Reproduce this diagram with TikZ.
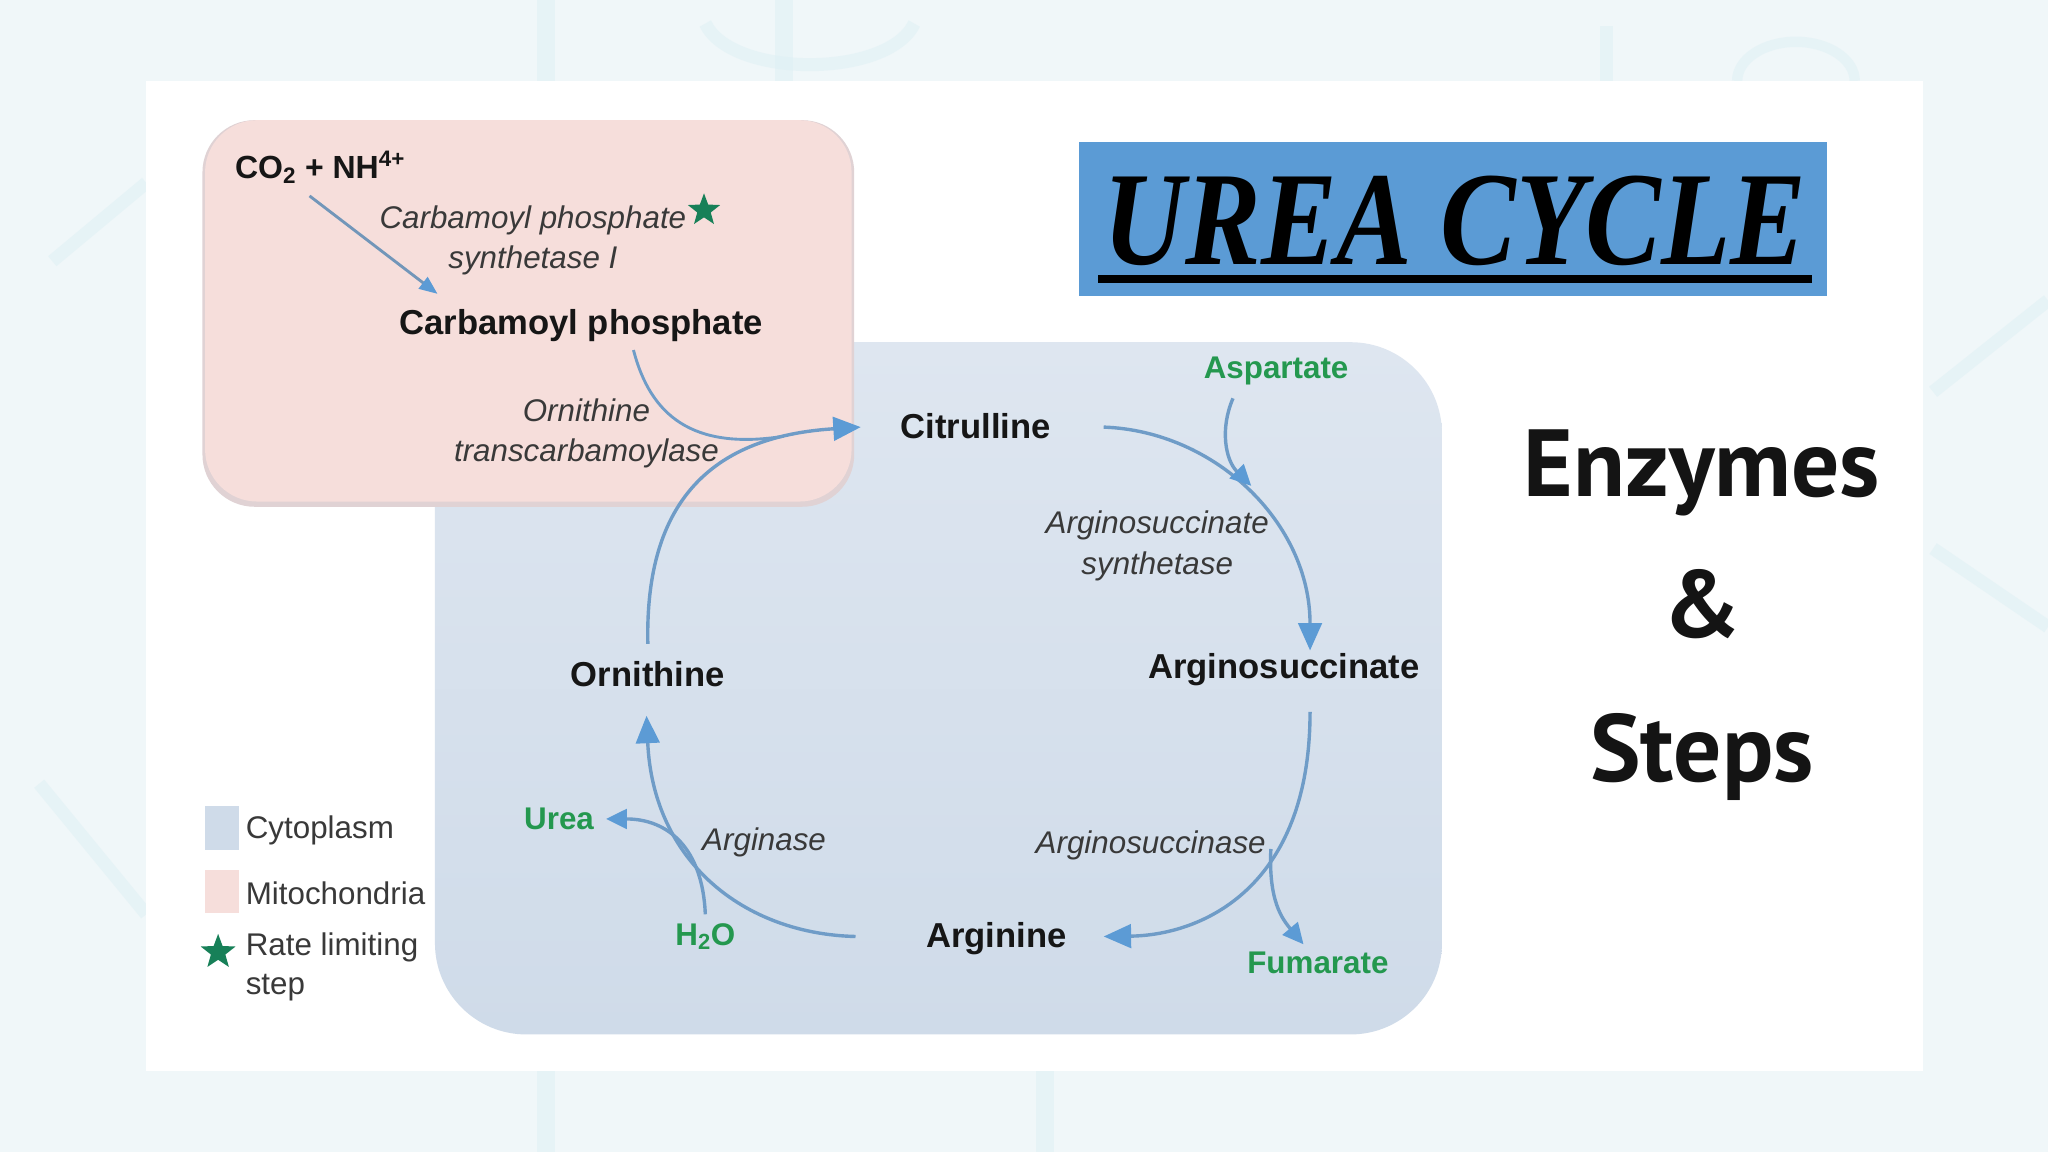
\documentclass[tikz,border=0pt]{standalone}
\usepackage{fontspec}
\setmainfont{Liberation Sans}
\newfontfamily\titlefont{Liberation Serif}
\newfontfamily\dinfont{PT Sans}
\usetikzlibrary{arrows.meta,shapes.geometric,calc}
\definecolor{bgout}{HTML}{F0F7F9}
\definecolor{deco}{HTML}{DCEFF4}
\definecolor{cytoA}{HTML}{DEE6F0}
\definecolor{cytoB}{HTML}{CFDBE9}
\definecolor{mito}{HTML}{F6DEDB}
\definecolor{mitoedge}{HTML}{E0D2D4}
\definecolor{arrowc}{HTML}{6F9CC7}
\definecolor{headc}{HTML}{5C9BD5}
\definecolor{grn}{HTML}{24984F}
\definecolor{stargrn}{HTML}{178058}
\definecolor{titlebg}{HTML}{5B9BD5}
\definecolor{txt}{HTML}{161616}
\tikzset{
  metab/.style={font=\fontsize{26.5}{30}\selectfont\bfseries, text=txt, inner sep=0pt},
  enzl/.style={font=\fontsize{24}{31}\selectfont\itshape, text=txt!85, align=center, inner sep=0pt},
  side/.style={font=\fontsize{24}{28}\selectfont\bfseries, text=grn, inner sep=0pt},
  legt/.style={font=\fontsize{24}{30}\selectfont, text=txt!85, inner sep=0pt, anchor=west, align=left},
  flow/.style={draw=arrowc, line width=2.6pt, -{Triangle[length=21pt,width=18pt,fill=headc,color=headc]}},
  thinflow/.style={draw=arrowc!80!gray, line width=2.2pt, -{Triangle[length=14pt,width=11pt,fill=headc,color=headc]}},
  rls/.style={star, star points=5, star point ratio=2.4, fill=stargrn, inner sep=0pt},
  big/.style={font=\dinfont\fontsize{73}{80}\selectfont\bfseries, text=black!92, inner sep=0pt, anchor=base}
}
\begin{document}
\begin{tikzpicture}[x=1pt,y=-1pt]
% page and backdrop
\fill[bgout] (0,0) rectangle (1568,882);
\useasboundingbox (0,0) rectangle (1568,882);
\begin{scope}[deco, line width=14pt, opacity=0.45]
  \draw (418,0) -- (418,62);
  \draw (418,820) -- (418,882);
  \draw (800,820) -- (800,882);
  \draw (600,0) -- (600,62);
  \draw[line width=10pt] (540,18) .. controls (560,60) and (680,60) .. (700,18);
  \draw[line width=8pt] (1330,62) arc (180:360:45 and 30);
  \draw[line width=10pt] (1480,300) -- (1568,230);
  \draw[line width=10pt] (1480,420) -- (1568,480);
  \draw[line width=10pt] (40,200) -- (112,140);
  \draw[line width=10pt] (30,600) -- (112,700);
  \draw[line width=10pt] (1230,20) -- (1230,62);
\end{scope}
\fill[white] (112,62) rectangle (1472,820);
% compartments
\path[rounded corners=70pt, top color=cytoA, bottom color=cytoB] (333,262) rectangle (1104,792);
\fill[mitoedge, rounded corners=40pt] (155,92) rectangle (654,388);
\fill[mito, rounded corners=40pt] (157,92) rectangle (652,384);
% title
\fill[titlebg] (826,109) rectangle (1399,227);
\node[inner sep=0pt] (title) at (1114,169) {\titlefont\fontsize{86}{90}\selectfont\bfseries\itshape\scalebox{1.01}[1.19]{UREA CYCLE}};
\draw[black, line width=6pt] ($(title.south west)+(-4,10)$) -- ($(title.south east)+(4,10)$);
% right text
\node[big] (enz) at (1303,380) {Enzymes};
\node[big] (amp) at (1303,488) {\&};
\node[big] (stp) at (1303,598) {Steps};
% metabolites
\node[metab, font=\fontsize{24.5}{28}\selectfont\bfseries] (co2) at (245,128) {CO\textsubscript{2} + NH\textsuperscript{4+}};
\node[metab] (cp) at (445,249) {Carbamoyl phosphate};
\node[metab] (cit) at (747,326) {Citrulline};
\node[metab] (asu) at (983,513) {Arginosuccinate};
\node[metab] (arg) at (763,719) {Arginine};
\node[metab] (orn) at (496,516) {Ornithine};
\node[side] (asp) at (977,284) {Aspartate};
\node[side] (fum) at (1009,737) {Fumarate};
\node[side] (urea) at (428,627) {Urea};
\node[side] (h2o) at (540,717) {H\textsubscript{2}O};
% enzymes
\node[enzl] (cps) at (408,184) {Carbamoyl phosphate\\synthetase I};
\node[rls, minimum size=26pt] (cpsstar) at (539,161) {};
\node[enzl] (otc) at (449,332) {Ornithine\\transcarbamoylase};
\node[enzl] (ass) at (886,418) {Arginosuccinate\\synthetase};
\node[enzl] (asl) at (881,647) {Arginosuccinase};
\node[enzl] (ase) at (585,645) {Arginase};
% connectors
\draw[thinflow] ($(co2.center)+(-8,22)$) -- ($(cp.center)+(-110,-24)$);
\draw[flow] ($(orn.center)+(0,-23)$) .. controls (494,400) and (530,335) .. ($(cit.center)+(-88,1)$);
\draw[draw=arrowc, line width=2.2pt] ($(cp.center)+(40,19)$) .. controls (498,318) and (530,345) .. (600,334);
\draw[flow] ($(cit.center)+(98,1)$) .. controls (930,330) and (1003,400) .. ($(asu.center)+(20,-15)$);
\coordinate (aspin) at (958,372);
\draw[flow, -{Triangle[length=16pt,width=15pt,fill=headc,color=headc]}] ($(asp.center)+(-33,21)$) .. controls (934,328) and (938,352) .. (aspin);
\draw[flow] ($(asu.center)+(20,32)$) .. controls (1003,680) and (920,716) .. ($(arg.center)+(82,-2)$);
\coordinate (fumout) at (973,650);
\draw[flow, -{Triangle[length=16pt,width=15pt,fill=headc,color=headc]}] (fumout) .. controls (971,690) and (982,704) .. ($(fum.center)+(-11,-14)$);
\draw[flow] ($(arg.center)+(-108,-2)$) .. controls (570,715) and (500,660) .. ($(orn.center)+(-1,32)$);
\draw[flow, -{Triangle[length=16pt,width=15pt,fill=headc,color=headc]}] ($(h2o.center)+(0,-17)$) .. controls (538,650) and (512,627) .. ($(urea.center)+(36,0)$);
% legend
\fill[cytoB] (157,617) rectangle (183,651);
\fill[mito] (157,666) rectangle (183,699);
\node[legt] (lcyt) at (188,636) {Cytoplasm};
\node[legt] (lmit) at (188,684) {Mitochondria};
\node[rls, minimum size=28pt] (lstar) at (167,729) {};
\node[legt, anchor=north west] (lrls) at (188,714) {Rate limiting\\step};
\end{tikzpicture}
\end{document}
